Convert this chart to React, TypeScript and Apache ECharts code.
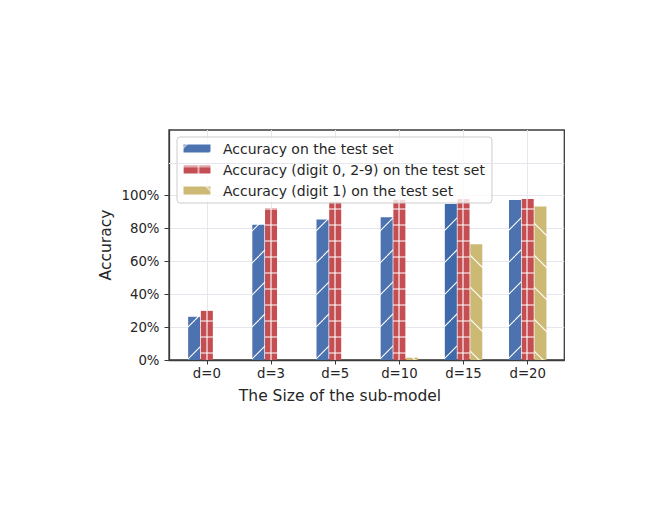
import { useEffect, useRef } from 'react'
import * as echarts from 'echarts'

// sub-model sizes (x categories) and accuracies in percent
const SIZES = ['d=0', 'd=3', 'd=5', 'd=10', 'd=15', 'd=20']
const ACC_ALL = [26.3, 82.4, 85.5, 86.9, 95.0, 97.4]
const ACC_OTHER = [29.9, 92.3, 96.4, 97.6, 98.0, 98.0]
const ACC_ONE = [0, 0, 0, 1.4, 70.5, 93.5]
const Y_TICKS = [0, 20, 40, 60, 80, 100]
const SERIES_NAMES = [
  'Accuracy on the test set',
  'Accuracy (digit 0, 2-9) on the test set',
  'Accuracy (digit 1) on the test set',
]

const FONT = 'DejaVu Sans'
const TEXT = '#262626'
const FRAME = '#3c3c3c'
const GRID = '#e6e6ee'

// matplotlib-like hatch tiles, drawn on a canvas and used as an image pattern
function hatch(bg: string, kind: 'slash' | 'plus' | 'back') {
  const size = 64
  const c = document.createElement('canvas')
  c.width = size
  c.height = size
  const ctx = c.getContext('2d')!
  ctx.fillStyle = bg
  ctx.fillRect(0, 0, size, size)
  ctx.strokeStyle = '#ffffff'
  ctx.lineWidth = 1.1
  ctx.beginPath()
  if (kind === 'plus') {
    for (let k = 0; k < 4; k++) {
      const vx = 15 + 16 * k
      ctx.moveTo(vx, 0)
      ctx.lineTo(vx, size)
      const hy = 1 + 16 * k
      ctx.moveTo(0, hy)
      ctx.lineTo(size, hy)
    }
  } else if (kind === 'slash') {
    for (let k = -3; k <= 5; k++) {
      const c0 = 3 + 32 * k
      ctx.moveTo(c0, 0)
      ctx.lineTo(c0 - size, size)
    }
  } else {
    for (let k = -3; k <= 3; k++) {
      const c0 = 23 + 32 * k
      ctx.moveTo(c0, 0)
      ctx.lineTo(c0 + size, size)
    }
  }
  ctx.stroke()
  return { image: c, repeat: 'repeat', imageWidth: size, imageHeight: size }
}

export default function App() {
  const elRef = useRef<HTMLDivElement>(null)

  useEffect(() => {
    if (!elRef.current) return
    const chart = echarts.init(elRef.current, null, { renderer: 'svg' })

    const blue = hatch('#4c72b0', 'slash')
    const blueDark = hatch('#3e6aab', 'slash')
    const red = hatch('#c44e52', 'plus')
    const yellow = hatch('#ccb974', 'back')

    const barBase = {
      type: 'bar',
      barWidth: 12,
      barGap: '6%',
    }

    chart.setOption({
      animation: false,
      backgroundColor: '#ffffff',
      grid: {
        left: 169,
        top: 130,
        right: 98.7,
        bottom: 167,
        show: true,
        borderColor: FRAME,
        borderWidth: 1.3,
        backgroundColor: 'transparent',
      },
      legend: {
        orient: 'vertical',
        left: 177,
        top: 137,
        icon: 'rect',
        itemWidth: 27,
        itemHeight: 8,
        itemGap: 7,
        padding: [4.5, 7, 5.5, 6.5],
        backgroundColor: 'rgba(255,255,255,0.8)',
        borderColor: '#cccccc',
        borderWidth: 1,
        borderRadius: 3,
        textStyle: { fontFamily: FONT, fontSize: 14, color: TEXT, padding: [0, 0, 0, 7.5], lineHeight: 14 },
        data: SERIES_NAMES,
      },
      xAxis: {
        type: 'value',
        min: -0.59,
        max: 5.57,
        axisLine: { show: true, onZero: false, lineStyle: { color: FRAME, width: 1.3 } },
        axisTick: {
          show: true,
          length: 4.5,
          customValues: SIZES.map((_, i) => i),
          lineStyle: { color: FRAME, width: 1 },
        },
        axisLabel: {
          customValues: SIZES.map((_, i) => i),
          formatter: (v: number) => SIZES[Math.round(v)] ?? '',
          fontFamily: FONT,
          fontSize: 13.3,
          color: TEXT,
          margin: 7,
        },
        splitLine: { show: true, lineStyle: { color: GRID, width: 1 } },
      },
      yAxis: {
        type: 'value',
        min: 0,
        max: 140,
        interval: 20,
        axisLine: { show: true, onZero: false, lineStyle: { color: FRAME, width: 1.3 } },
        axisTick: {
          show: true,
          length: 4.5,
          customValues: Y_TICKS,
          lineStyle: { color: FRAME, width: 1 },
        },
        axisLabel: {
          customValues: Y_TICKS,
          formatter: (v: number) => `${v}%`,
          fontFamily: FONT,
          fontSize: 13.3,
          color: TEXT,
          margin: 9.5,
        },
        splitLine: { show: true, lineStyle: { color: GRID, width: 1 } },
      },
      graphic: [
        {
          type: 'text',
          x: 340,
          y: 396,
          style: {
            text: 'The Size of the sub-model',
            fontFamily: FONT,
            fontSize: 15.5,
            fill: TEXT,
            align: 'center',
            verticalAlign: 'middle',
          },
        },
        {
          type: 'text',
          x: 106,
          y: 245,
          rotation: Math.PI / 2,
          style: {
            text: 'Accuracy',
            fontFamily: FONT,
            fontSize: 15.5,
            fill: TEXT,
            align: 'center',
            verticalAlign: 'middle',
          },
        },
      ],
      series: [
        {
          ...barBase,
          name: SERIES_NAMES[0],
          itemStyle: { color: blue },
          data: ACC_ALL.map((v, i) =>
            i === 4 ? { value: [i, v], itemStyle: { color: blueDark } } : [i, v],
          ),
          markLine: {
            silent: true,
            symbol: 'none',
            label: { show: false },
            lineStyle: { color: GRID, type: 'solid', width: 1 },
            data: [{ yAxis: 120 }],
          },
        },
        {
          ...barBase,
          name: SERIES_NAMES[1],
          itemStyle: { color: red },
          data: ACC_OTHER.map((v, i) => [i, v]),
        },
        {
          ...barBase,
          name: SERIES_NAMES[2],
          itemStyle: { color: yellow },
          data: ACC_ONE.map((v, i) => [i, v]),
        },
      ],
    })

    return () => chart.dispose()
  }, [])

  return (
    <div
      ref={elRef}
      style={{ position: 'fixed', left: 0, top: 0, width: 663, height: 527 }}
    />
  )
}
